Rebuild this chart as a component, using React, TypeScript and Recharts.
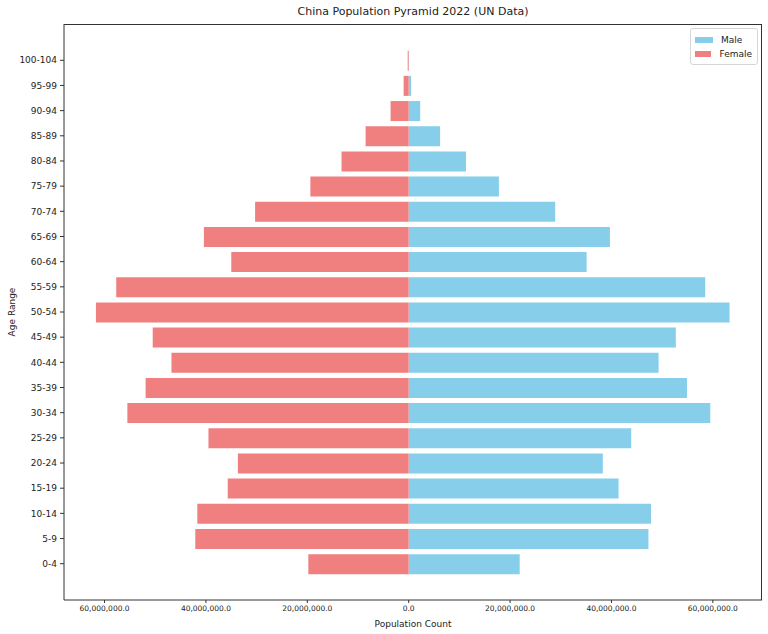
import React from 'react';
import { BarChart, Bar, XAxis, YAxis, Legend } from 'recharts';

// Age groups, youngest first (drawn bottom-up)
const ageGroups = [
  '0-4', '5-9', '10-14', '15-19', '20-24', '25-29', '30-34', '35-39', '40-44',
  '45-49', '50-54', '55-59', '60-64', '65-69', '70-74', '75-79', '80-84',
  '85-89', '90-94', '95-99', '100-104',
];

// Population per age group
const malePop = [
  21.9e6, 47.3e6, 47.8e6, 41.4e6, 38.3e6, 43.9e6, 59.5e6, 54.9e6, 49.3e6,
  52.7e6, 63.3e6, 58.5e6, 35.1e6, 39.7e6, 28.9e6, 17.8e6, 11.3e6,
  6.2e6, 2.27e6, 0.45e6, 0.05e6,
];
const femalePop = [
  19.8e6, 42.1e6, 41.7e6, 35.7e6, 33.7e6, 39.5e6, 55.5e6, 51.9e6, 46.8e6,
  50.5e6, 61.7e6, 57.7e6, 35.0e6, 40.4e6, 30.3e6, 19.4e6, 13.25e6,
  8.5e6, 3.57e6, 1.0e6, 0.2e6,
];

const xTicks = [-60e6, -40e6, -20e6, 0, 20e6, 40e6, 60e6];

const MALE_COLOR = '#87CEEB';
const FEMALE_COLOR = '#F08080';
const FONT = '"DejaVu Sans", sans-serif';
const AXIS_COLOR = '#333';
const TEXT_COLOR = '#222';

const rows = ageGroups.map((age, i) => ({
  age,
  male: malePop[i],
  female: -femalePop[i],
}));

const fmt = (v: number) =>
  Math.abs(v).toLocaleString('en-US', { minimumFractionDigits: 1, maximumFractionDigits: 1 });

const LegendBox = () => (
  <div
    style={{
      border: '1px solid #d6d6d6',
      borderRadius: 3,
      background: 'rgba(255,255,255,0.8)',
      padding: '4px 5px 3px 4px',
      fontFamily: FONT,
      fontSize: 9,
      color: TEXT_COLOR,
      lineHeight: '14px',
    }}
  >
    {[
      { name: 'Male', color: MALE_COLOR },
      { name: 'Female', color: FEMALE_COLOR },
    ].map((it) => (
      <div key={it.name} style={{ display: 'flex', alignItems: 'center' }}>
        <span
          style={{
            display: 'inline-block',
            width: 18,
            height: 6,
            background: it.color,
            marginRight: 8,
          }}
        />
        <span>{it.name}</span>
      </div>
    ))}
  </div>
);

export default function App() {
  return (
    <div
      style={{
        position: 'absolute',
        left: 0,
        top: 0,
        width: 768,
        height: 634,
        background: '#fff',
        fontFamily: FONT,
      }}
    >
      <div
        style={{
          position: 'absolute',
          left: 64,
          width: 698,
          top: 5,
          textAlign: 'center',
          fontSize: 11,
          color: TEXT_COLOR,
        }}
      >
        China Population Pyramid 2022 (UN Data)
      </div>
      <BarChart
        width={768}
        height={634}
        data={rows}
        layout="vertical"
        stackOffset="sign"
        barCategoryGap="20%"
        barSize={20}
        margin={{ top: 24, right: 6, bottom: 0, left: 0 }}
      >
        <XAxis
          type="number"
          domain={[-68.0e6, 69.7e6]}
          ticks={xTicks}
          tickFormatter={fmt}
          height={34}
          tickSize={3}
          tickMargin={3}
          stroke={AXIS_COLOR}
          tick={{ fontSize: 7.5, fill: TEXT_COLOR, fontFamily: FONT }}
          label={{
            value: 'Population Count',
            position: 'insideBottom',
            offset: 7,
            fontSize: 9,
            fill: TEXT_COLOR,
            fontFamily: FONT,
          }}
        />
        <YAxis
          type="category"
          dataKey="age"
          reversed
          width={64}
          padding={{ top: 23.7, bottom: 23.7 }}
          tickSize={4}
          tickMargin={3}
          interval={0}
          stroke={AXIS_COLOR}
          tick={{ fontSize: 9, fill: TEXT_COLOR, fontFamily: FONT }}
          label={{
            content: (props: any) => {
              const vb = props.viewBox || { x: 0, y: 24, width: 64, height: 576 };
              const cx = 12;
              const cy = vb.y + vb.height / 2;
              return (
                <text
                  x={cx}
                  y={cy}
                  transform={`rotate(-90, ${cx}, ${cy})`}
                  textAnchor="middle"
                  dominantBaseline="central"
                  fontSize={9}
                  fill={TEXT_COLOR}
                  fontFamily={FONT}
                >
                  Age Range
                </text>
              );
            },
          }}
        />
        <Legend
          content={() => <LegendBox />}
          layout="horizontal"
          verticalAlign="middle"
          wrapperStyle={{ top: 28, left: 690, width: 68, height: 31 }}
        />
        <Bar
          dataKey="male"
          name="Male"
          stackId="pop"
          fill={MALE_COLOR}
          isAnimationActive={false}
        />
        <Bar
          dataKey="female"
          name="Female"
          stackId="pop"
          fill={FEMALE_COLOR}
          isAnimationActive={false}
        />
      </BarChart>
      {/* top and right frame lines of the plot box */}
      <div
        style={{
          position: 'absolute',
          left: 64,
          top: 23.5,
          width: 697.5,
          height: 576.5,
          borderTop: `1px solid ${AXIS_COLOR}`,
          borderRight: `1px solid ${AXIS_COLOR}`,
          boxSizing: 'border-box',
          pointerEvents: 'none',
        }}
      />
    </div>
  );
}
